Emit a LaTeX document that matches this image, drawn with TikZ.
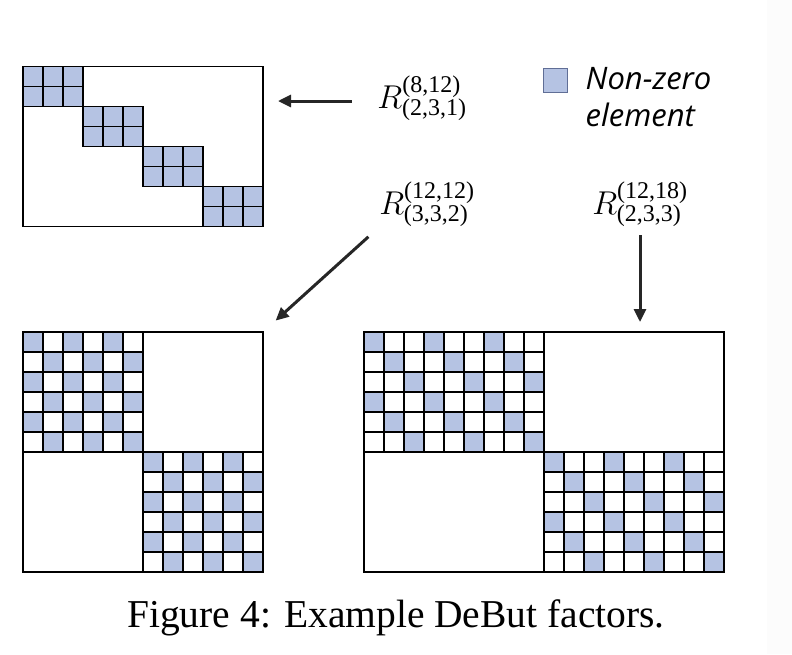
\documentclass[tikz,border=0pt]{standalone}
\usepackage{fix-cm}
\usepackage{fontspec}
\setmainfont{Liberation Serif}
\newfontfamily\legendfont{Open Sans}
\usetikzlibrary{positioning, arrows.meta}
\definecolor{nzblue}{RGB}{181,195,227}
\definecolor{nzedge}{RGB}{96,110,150}
\definecolor{arrowgray}{RGB}{38,38,38}
\newcommand{\dbscript}[1]{\mbox{\fontsize{24}{26}\selectfont #1}}
\newcommand{\rfactor}[2]{$R^{\dbscript{#1}}_{\dbscript{#2}}$}

\begin{document}
\begin{tikzpicture}[x=1pt, y=-1pt,
    cell/.style={draw, fill=white, line width=1.7pt},
    nz/.style={draw, fill=nzblue, line width=1.7pt},
    mat/.style={draw, line width=1.8pt, inner sep=0pt, outer sep=0pt},
    lab/.style={font=\fontsize{33}{40}\selectfont},
    arr/.style={-{Triangle[length=13pt,width=12pt]}, line width=3pt, draw=arrowgray}]
    % tikz code goes here
    \useasboundingbox (0,0) rectangle (792,654);
    \fill[black!1] (767,0) rectangle (792,654);

    % R(8,12): four full 2x3 blocks
    \foreach \k in {0,...,3}
        \foreach \row in {0,1}
            \foreach \col in {0,1,2}
                \draw[nz] ({23+20*(3*\k+\col)},{66.5+20*(2*\k+\row)}) rectangle ++(20,20);
    \node[mat, minimum width=240pt, minimum height=160pt] (m1) at (143,146.5) {};

    % R(12,12): two 6x6 blocks
    \foreach \b in {0,1} {
        \foreach \row in {0,...,5}
            \foreach \col in {0,...,5}
                \draw[cell] ({23+20*(6*\b+\col)},{332+20*(6*\b+\row)}) rectangle ++(20,20);
        \foreach \row in {0,...,5}
            \foreach \j in {0,1,2}
                \draw[nz] ({23+20*(6*\b+mod(\row,2)+2*\j)},{332+20*(6*\b+\row)}) rectangle ++(20,20);
    }
    \node[mat, minimum size=240pt] (m2) at (143,452) {};

    % R(12,18): two 6x9 blocks
    \foreach \b in {0,1} {
        \foreach \row in {0,...,5}
            \foreach \col in {0,...,8}
                \draw[cell] ({364+20*(9*\b+\col)},{332+20*(6*\b+\row)}) rectangle ++(20,20);
        \foreach \row in {0,...,5}
            \foreach \j in {0,1,2}
                \draw[nz] ({364+20*(9*\b+mod(\row,3)+3*\j)},{332+20*(6*\b+\row)}) rectangle ++(20,20);
    }
    \node[mat, minimum width=360pt, minimum height=240pt] (m3) at (544,452) {};

    \node[lab] (r1) at (422,98) {\rfactor{(8,12)}{(2,3,1)}};
    \node[lab] (r2) at (427,204) {\rfactor{(12,12)}{(3,3,2)}};
    \node[lab] (r3) at (640,204) {\rfactor{(12,18)}{(2,3,3)}};

    \node[draw=nzedge, fill=nzblue, line width=1pt, minimum size=24pt, inner sep=0pt] (lg) at (555,80) {};
    \node[right=18pt of lg.north east, anchor=north west, align=left, inner sep=0pt,
          font=\legendfont\itshape\fontsize{31}{37}\selectfont] (lt) {Non-zero\\element};

    \draw[arr, shorten <=22pt, shorten >=15pt] ([yshift=-3pt]r1.west) -- ([yshift=-3pt]r1.west -| m1.east);
    \draw[arr, shorten <=10pt, shorten >=17pt] (r2.south west) -- (m2.north east);
    \draw[arr, shorten <=5pt, shorten >=10pt] (r3.south) -- (r3.south |- m3.north);

    \node[font=\fontsize{39.5}{46}\selectfont, anchor=base] (cap) at (396,627) {Figure 4: Example DeBut factors.};
\end{tikzpicture}
\end{document}
